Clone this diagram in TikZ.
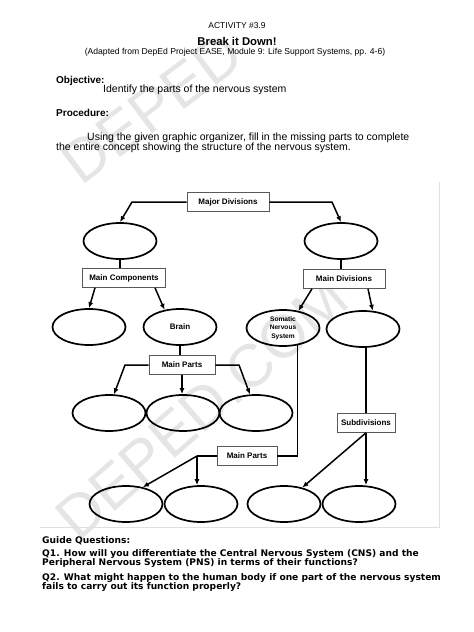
\documentclass[tikz,border=0pt]{standalone}
\usepackage{fontspec}
\setmainfont{Liberation Sans}
\newfontfamily\dejavu{DejaVu Sans}
\usetikzlibrary{shapes.geometric,arrows.meta}
\begin{document}
\begin{tikzpicture}[x=1pt,y=-1pt,
  oval/.style={ellipse, draw, line width=1.7pt, minimum width=73pt, minimum height=36pt, inner sep=0pt, align=center},
  lbl/.style={draw=black!65, line width=0.6pt, fill=white, font=\fontsize{8}{9}\selectfont\bfseries, inner sep=0pt, minimum height=19pt},
  con/.style={line width=1.5pt},
  arr/.style={con, -{Latex[length=6pt,width=5pt]}},
  wm/.style={text=black!10, font=\fontsize{60}{60}\selectfont, inner sep=0pt},
  txt/.style={anchor=base west, inner sep=0pt, font=\fontsize{10.5}{12}\selectfont},
  hd/.style={anchor=base west, inner sep=0pt, font=\fontsize{10}{12}\selectfont\bfseries},
  gq/.style={anchor=base west, inner sep=0pt, font=\dejavu\bfseries\fontsize{9.1}{10}\selectfont},
]
\useasboundingbox (0,0) rectangle (474,632);
\fill[white] (0,0) rectangle (474,632);
% watermarks
\node[wm, rotate=37] (wm1) at (152,108) {DEPED};
\node[wm, rotate=41] (wm2) at (202,408) {DEPED.COM};
% header
\node[anchor=base, inner sep=0pt, font=\fontsize{8.5}{10}\selectfont] (act) at (237,28) {ACTIVITY \#3.9};
\node[anchor=base, inner sep=0pt, font=\fontsize{11.3}{13}\selectfont\bfseries] (ttl) at (237,45) {Break it Down!};
\node[anchor=base, inner sep=0pt, font=\fontsize{8.6}{10}\selectfont] (src) at (235,54) {(Adapted from DepEd Project EASE, Module 9: Life Support Systems, pp. 4-6)};
\node[hd] (obj) at (56,83) {Objective:};
\node[txt] (objt) at (103,92) {Identify the parts of the nervous system};
\node[hd] (proc) at (56,116) {Procedure:};
\node[txt] (p1) at (87,140) {Using the given graphic organizer, fill in the missing parts to complete};
\node[txt] (p2) at (56,150) {the entire concept showing the structure of the nervous system.};
% frame
\draw[black!12, line width=1pt] (40,527) -- (439,527) -- (439,182);
% diagram nodes
\node[lbl, minimum width=82pt] (md) at (228,202) {Major Divisions};
\node[oval] (e1l) at (120,241) {};
\node[oval] (e1r) at (341,241) {};
\node[lbl, minimum width=83pt] (mc) at (124,278) {Main Components};
\node[lbl, minimum width=82pt] (mdv) at (344,279) {Main Divisions};
\node[oval] (e3a) at (89,327) {};
\node[oval, font=\fontsize{8}{9}\selectfont\bfseries] (brain) at (180,327) {Brain};
\node[oval, font=\fontsize{6.6}{8.4}\selectfont\bfseries] (sns) at (283,328) {Somatic\\Nervous\\System};
\node[oval] (e3d) at (363,329) {};
\node[lbl, minimum width=66pt] (mp1) at (182,365) {Main Parts};
\node[oval] (e4a) at (109,413) {};
\node[oval] (e4b) at (183,413) {};
\node[oval] (e4c) at (256,413) {};
\node[lbl, minimum width=60pt] (mp2) at (247,456) {Main Parts};
\node[lbl, minimum width=58pt] (sub) at (366,423) {Subdivisions};
\node[oval] (e5a) at (126,504) {};
\node[oval] (e5b) at (201,504) {};
\node[oval] (e5c) at (284,504) {};
\node[oval] (e5d) at (359,504) {};
% connectors
\coordinate (mdl) at (132,202);
\coordinate (mdr) at (332,202);
\draw[arr] (md.west) -- (mdl) -- (e1l.north);
\draw[arr] (md.east) -- (mdr) -- (e1r.north);
\draw[con] (e1l.south) -- (e1l.south |- mc.north);
\draw[con] (e1r.south) -- (e1r.south |- mdv.north);
\draw[arr] ([xshift=-29pt]mc.south) -- (e3a.north);
\draw[arr] ([xshift=31pt]mc.south) -- (brain.132);
\draw[arr] ([xshift=-32pt]mdv.south) -- (sns.48);
\draw[arr] ([xshift=24pt]mdv.south) -- (e3d.62);
\draw[con] (brain.south) -- (brain.south |- mp1.north);
\coordinate (mpl) at (125,365);
\coordinate (mpr) at (239,365);
\draw[arr] (mp1.west) -- (mpl) -- (e4a.75);
\draw[arr] (mp1.south) -- (mp1.south |- e4b.north);
\draw[arr] (mp1.east) -- (mpr) -- (e4c.108);
\draw[con] (sns.-50) |- (mp2.east);
\coordinate (j) at (197,456);
\draw[con] (mp2.west) -- (j);
\draw[arr] (j) -- (e5a.45);
\draw[arr] (j) -- (j |- e5b.north);
\draw[con] (sub.north) -- (sub.north |- e3d.south);
\draw[arr] (sub.south) -- (sub.south |- e5d.north);
\draw[arr] (sub.south) -- (e5c.42);
% guide questions
\node[gq] (g0) at (42,543) {Guide Questions:};
\node[gq] (q1a) at (42,556) {Q1. How will you differentiate the Central Nervous System (CNS) and the};
\node[gq] (q1b) at (42,565) {Peripheral Nervous System (PNS) in terms of their functions?};
\node[gq] (q2a) at (42,580) {Q2. What might happen to the human body if one part of the nervous system};
\node[gq] (q2b) at (42,589) {fails to carry out its function properly?};
\end{tikzpicture}
\end{document}
